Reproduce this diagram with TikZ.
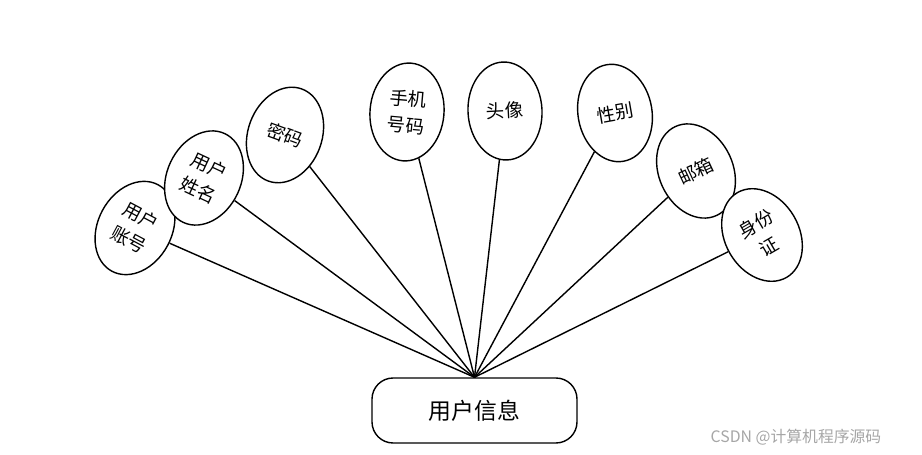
\documentclass[tikz,border=0pt]{standalone}
\usepackage{fontspec}
\setmainfont{Noto Sans CJK SC}
\usetikzlibrary{shapes.geometric}
\begin{document}
\begin{tikzpicture}[x=0.02cm,y=-0.02cm,
  attr/.style={draw,thick,ellipse,inner sep=0pt,minimum width=74*0.02cm,minimum height=98*0.02cm,align=center,font=\fontsize{10.5}{15}\selectfont,fill=white},
  link/.style={thick}]
\useasboundingbox (0,0) rectangle (922,455);
\node[draw,thick,rounded corners=12pt,minimum width=205*0.02cm,minimum height=65*0.02cm,font=\fontsize{13}{15}\selectfont] (root) at (474.5,410.5) {用户信息};
\node[attr,rotate=-28] (e1) at (135,228) {用户\\账号};
\node[attr,rotate=-25] (e2) at (204,178) {用户\\姓名};
\node[attr,rotate=-20] (e3) at (285,135) {密码};
\node[attr,rotate=-5] (e4) at (407,112) {手机\\号码};
\node[attr,rotate=3] (e5) at (505,111) {头像};
\node[attr,rotate=10] (e6) at (615,113) {性别};
\node[attr,rotate=25] (e7) at (696,171) {邮箱};
\node[attr,rotate=30] (e8) at (762,235) {身份\\证};
\foreach \e in {e1,e2,e3,e4,e5,e6,e7,e8} \draw[link] (\e) -- (root.north);
\node[text=gray!70,font=\fontsize{9}{11}\selectfont] (wm) at (796,437) {CSDN @计算机程序源码};
\end{tikzpicture}
\end{document}
